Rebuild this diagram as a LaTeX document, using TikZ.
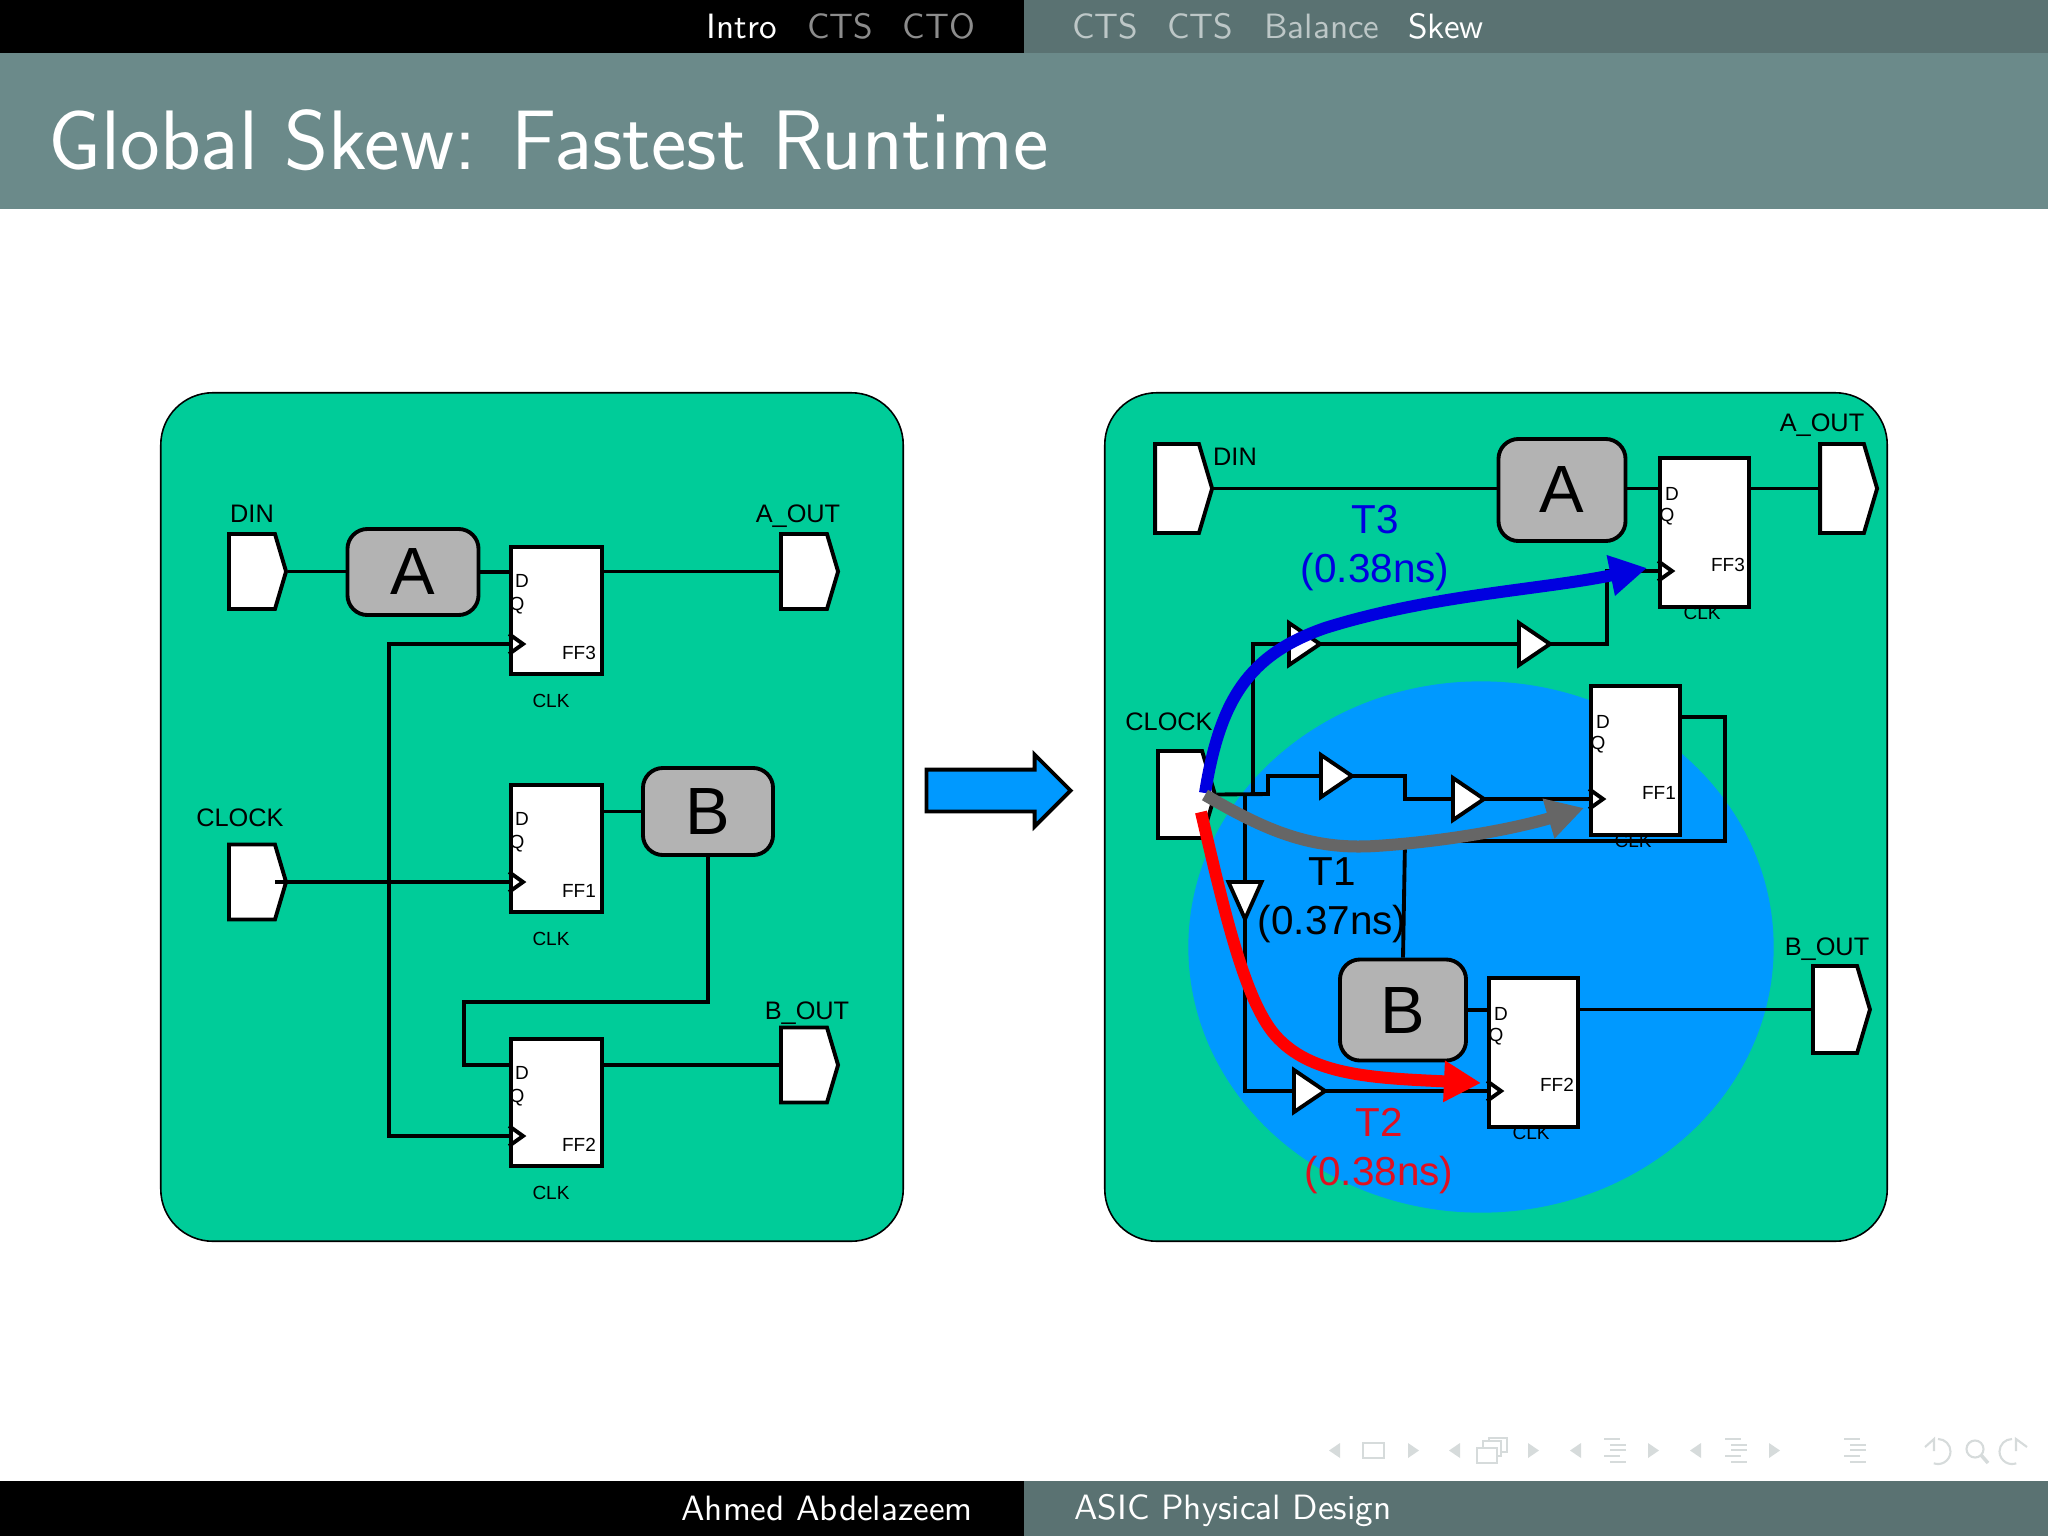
\documentclass[tikz,border=0pt]{standalone}
\usepackage{fontspec}
\setmainfont{Liberation Sans}
\usetikzlibrary{positioning, arrows.meta, shapes.geometric, shapes.symbols, shapes.arrows}
\definecolor{barblack}{HTML}{000000}
\definecolor{bardark}{HTML}{5A7272}
\definecolor{titleband}{HTML}{6B8A8A}
\definecolor{panelgreen}{HTML}{00CC99}
\definecolor{hotblue}{HTML}{0099FF}
\definecolor{blockgray}{HTML}{B3B3B3}
\definecolor{navgray}{HTML}{D6DBDB}
\begin{document}
\begin{tikzpicture}[
    x=0.01cm, y=-0.01cm,
    panel/.style={draw, line width=0.45pt, rounded corners=0.52cm, fill=panelgreen, inner sep=0pt},
    port/.style={draw, line width=1.1pt, fill=white, signal, signal to=east, signal pointer angle=147, inner sep=0pt, minimum width=0.57cm},
    block/.style={draw, line width=1.1pt, rounded corners=0.2cm, fill=blockgray, inner sep=0pt, font=\fontsize{19}{19}\selectfont},
    ff/.style={draw, line width=1.1pt, fill=white, inner sep=0pt},
    buf/.style={draw, line width=1.1pt, fill=white, isosceles triangle, isosceles triangle stretches, inner sep=0pt, outer sep=0pt, minimum width=0.42cm, minimum height=0.31cm, anchor=lower side},
    wire/.style={line width=1.1pt},
    pathlbl/.style={font=\fontsize{11.5}{11.5}\selectfont},
    pin/.style={font=\fontsize{5.4}{5.4}\selectfont, inner sep=0pt},
    lbl/.style={font=\fontsize{7.2}{7.2}\selectfont, inner sep=0pt},
    arrow/.style={-{Triangle[length=0.37cm, width=0.39cm]}, line width=0.12cm},
    headtxt/.style={font=\sffamily\fontsize{10}{10}\selectfont, inner sep=0pt},
    navtri/.style={fill=navgray},
    navline/.style={draw=navgray, line width=0.6pt}
]
\useasboundingbox (0,0) rectangle (2048,1536);
% slide frame
\fill[barblack] (0,0) rectangle (1024,53);
\fill[bardark] (1024,0) rectangle (2048,53);
\fill[titleband] (0,53) rectangle (2048,209);
\fill[barblack] (0,1481) rectangle (1024,1536);
\fill[bardark] (1024,1481) rectangle (2048,1536);
\node[headtxt, text=white] (h_intro) at (742,26) {Intro};
\node[headtxt, text=white!55!black] (h_cts) at (840,26) {CTS};
\node[headtxt, text=white!55!black] (h_cto) at (939,26) {CTO};
\node[headtxt, text=white!60!bardark] (h_cts2) at (1105,26) {CTS};
\node[headtxt, text=white!60!bardark] (h_cts3) at (1200,26) {CTS};
\node[headtxt, text=white!60!bardark] (h_bal) at (1322,26) {Balance};
\node[headtxt, text=white] (h_skew) at (1446,26) {Skew};
\node[font=\sffamily\fontsize{24}{24}\selectfont, text=white, inner sep=0pt, anchor=west] (title) at (48,140) {Global Skew: Fastest Runtime};
\node[headtxt, text=white] (f_name) at (827,1508) {Ahmed Abdelazeem};
\node[headtxt, text=white] (f_talk) at (1233,1511) {ASIC Physical Design};

% left panel
\node[panel, minimum width=7.42cm, minimum height=8.48cm] (lpanel) at (532,817) {};
\node[port, minimum height=0.75cm] (ldin) at (252,571.5) {};
\node[port, minimum height=0.75cm] (laout) at (804,571.5) {};
\node[port, minimum height=0.75cm] (lclock) at (252,882) {};
\node[port, minimum height=0.75cm] (lbout) at (804,1065) {};
\node[lbl] (ldin_l) at (252,514) {DIN};
\node[lbl] (laout_l) at (798,516) {A\_OUT};
\node[lbl] (lclock_l) at (240,818) {CLOCK};
\node[lbl] (lbout_l) at (807,1013) {B\_OUT};
\node[block, minimum width=1.31cm, minimum height=0.86cm] (la) at (413,572) {A};
\node[block, minimum width=1.30cm, minimum height=0.87cm] (lb) at (708,811.5) {B};
\foreach \f/\y in {3/545, 1/783, 2/1037} {
  \node[ff, minimum width=0.91cm, minimum height=1.27cm, anchor=north west] (lff\f) at (509,\y) {};
  \node[pin] (lff\f_d) at (522,\y+36) {D};
  \node[pin] (lff\f_q) at (517,\y+61) {Q};
  \node[pin] (lff\f_n) at (579,\y+108) {FF\f};
  \node[pin] (lff\f_c) at (551,\y+156) {CLK};
  \coordinate (lff\f_ck) at (509,\y+99);
}
\draw[wire] (ldin.east) -- (ldin.east -| la.west);
\draw[wire] (la.east) -- (la.east -| lff3.west);
\draw[wire] (lff3.east |- laout.west) -- (laout.west);
\draw[wire] (lff1.east |- lb.west) -- (lb.west);
\draw[wire] (lb.south) -- (708,1002) -- (464,1002) |- (lff2.west |- lbout.west);
\draw[wire] (lff2.east |- lbout.west) -- (lbout.west);
\draw[wire, line width=1.2pt] ([xshift=-0.13cm]lclock.east) -- (lff1_ck);
\draw[wire] (lff3_ck) -| (389,1136) -- (lff2_ck);

% right panel
\node[panel, minimum width=7.82cm, minimum height=8.48cm] (rpanel) at (1496,817) {};
\node[ellipse, fill=hotblue, inner sep=0pt, minimum width=5.85cm, minimum height=5.31cm] (rzone) at (1481,947) {};
\node[port, minimum height=0.89cm] (rdin) at (1177,488.5) {};
\node[port, minimum height=0.89cm] (raout) at (1842,488.5) {};
\node[port, minimum height=0.87cm] (rclock) at (1180,794.5) {};
\node[port, minimum height=0.87cm] (rbout) at (1835,1009.5) {};
\node[lbl] (rdin_l) at (1235,457) {DIN};
\node[lbl] (raout_l) at (1822,425) {A\_OUT};
\node[lbl] (rclock_l) at (1169,722) {CLOCK};
\node[lbl] (rbout_l) at (1827,949) {B\_OUT};
\node[block, minimum width=1.27cm, minimum height=1.02cm] (ra) at (1562,490) {A};
\node[block, minimum width=1.26cm, minimum height=1.01cm] (rb) at (1403,1010) {B};
\foreach \f/\x/\y in {3/1658/456, 1/1589/684, 2/1487/976} {
  \node[ff, minimum width=0.89cm, minimum height=1.49cm, anchor=north west] (rff\f) at (\x,\y) {};
  \node[pin] (rff\f_d) at (\x+14,\y+38) {D};
  \node[pin] (rff\f_q) at (\x+9,\y+61) {Q};
  \node[pin] (rff\f_n) at (\x+70,\y+109) {FF\f};
  \node[pin] (rff\f_c) at (\x+44,\y+157) {CLK};
  \coordinate (rff\f_ck) at (\x,\y+115);
}
\node[buf] (rbuf1) at (1289,644) {};
\node[buf] (rbuf2) at (1519,644) {};
\node[buf] (rbuf3) at (1321,776) {};
\node[buf] (rbuf4) at (1453,799) {};
\node[buf] (rbuf5) at (1294,1091) {};
\node[buf, shape border rotate=270, minimum width=0.33cm, minimum height=0.37cm] (rbuf6) at (1245,882) {};
\draw[wire] (rdin.east) -- (rdin.east -| ra.west);
\draw[wire] (ra.east |- rdin.east) -- (rdin.east -| rff3.west);
\draw[wire] (rff3.east |- raout.west) -- (raout.west);
\draw[wire] (rclock.east) -- (1268,794) |- (rbuf3.lower side);
\draw[wire] (rbuf3.apex) -| (1405,799) -- (rbuf4.lower side);
\draw[wire] (rbuf4.apex) -- (rff1_ck);
\draw[wire] (1253,794) |- (rbuf1.lower side);
\draw[wire] (rbuf1.apex) -- (rbuf2.lower side);
\draw[wire] (rbuf2.apex) -| (1607,571) -- (rff3_ck);
\draw[wire] (1245,794) -- (rbuf6.lower side);
\draw[wire] (rbuf6.apex) |- (rbuf5.lower side);
\draw[wire] (rbuf5.apex) -- (rff2_ck);
\draw[wire] (rff1.east |- 0,717) -| (1725,841) -- (1405,841) -- (rb.north);
\draw[wire] (rb.east) -- (rb.east -| rff2.west);
\draw[wire] (rff2.east |- rbout.west) -- (rbout.west);
\foreach \c in {lff3_ck, lff1_ck, lff2_ck, rff3_ck, rff1_ck, rff2_ck}
  \draw[wire] ([yshift=0.1cm]\c) -- ([xshift=0.14cm]\c) -- ([yshift=-0.1cm]\c);

% path delays
\node[pathlbl, text={rgb,255:red,0;green,0;blue,224}, align=center, inner sep=0pt] (t3) at (1375,548) {T3\\[0.09cm](0.38ns)};
\node[pathlbl, align=center, inner sep=0pt] (t1) at (1332,900) {T1\\[0.09cm](0.37ns)};
\node[pathlbl, text={rgb,255:red,224;green,16;blue,32}, align=center, inner sep=0pt] (t2) at (1379,1151) {T2\\[0.09cm](0.38ns)};
\coordinate (t3_tip) at (1647,568);
\coordinate (t1_tip) at (1584,808);
\coordinate (t2_tip) at (1481,1083);
\draw[arrow, draw=blue!88!black] (1205,793) .. controls (1220,700) and (1248,655) .. (1325,628) .. controls (1430,595) and (1540,590) .. (t3_tip);
\draw[arrow, draw=black!60] (1205,795) .. controls (1265,830) and (1310,850) .. (1375,846) .. controls (1440,842) and (1510,830) .. (t1_tip);
\draw[arrow, draw=red] (1201,812) .. controls (1225,915) and (1245,1000) .. (1275,1035) .. controls (1310,1075) and (1370,1078) .. (t2_tip);

% big arrow between the panels
\node[draw, line width=1.1pt, fill=hotblue, single arrow, inner xsep=0pt, inner ysep=0.19cm, minimum height=1.44cm, single arrow head extend=0.15cm] (bigarrow) at (988,790.5) {};

% navigation symbols
\foreach \xa in {1329, 1449, 1570, 1690}
  \fill[navtri] (\xa,1450.5) -- (\xa+11,1443) -- (\xa+11,1458) -- cycle;
\foreach \xb in {1408, 1528, 1648, 1769}
  \fill[navtri] (\xb,1443) -- (\xb+11,1450.5) -- (\xb,1458) -- cycle;
\draw[navline] (1363,1443) rectangle (1384,1458);
\draw[navline, fill=white] (1489,1438) rectangle (1507,1452);
\draw[navline, fill=white] (1483,1441) rectangle (1501,1456);
\draw[navline, fill=white] (1477,1448) rectangle (1497,1463);
\foreach \xc in {1604, 1725, 1844} {
  \draw[navline] (\xc,1439) -- (\xc+16,1439);
  \draw[navline] (\xc+6,1445) -- (\xc+22,1445);
  \draw[navline] (\xc+6,1450) -- (\xc+22,1450);
  \draw[navline] (\xc,1456) -- (\xc+16,1456);
  \draw[navline] (\xc+6,1462) -- (\xc+22,1462);
}
\draw[navline] (1938,1439) arc[start angle=90, end angle=-110, radius=0.125cm];
\draw[navline] (1925,1447) -- (1934,1439) -- (1934,1451);
\draw[navline] (1975,1449) circle[radius=0.085cm];
\draw[navline, line width=1pt] (1981,1455) -- (1988,1463);
\draw[navline] (2012,1439) arc[start angle=90, end angle=290, radius=0.125cm];
\draw[navline] (2027,1447) -- (2016,1439) -- (2016,1451);
\end{tikzpicture}
\end{document}
